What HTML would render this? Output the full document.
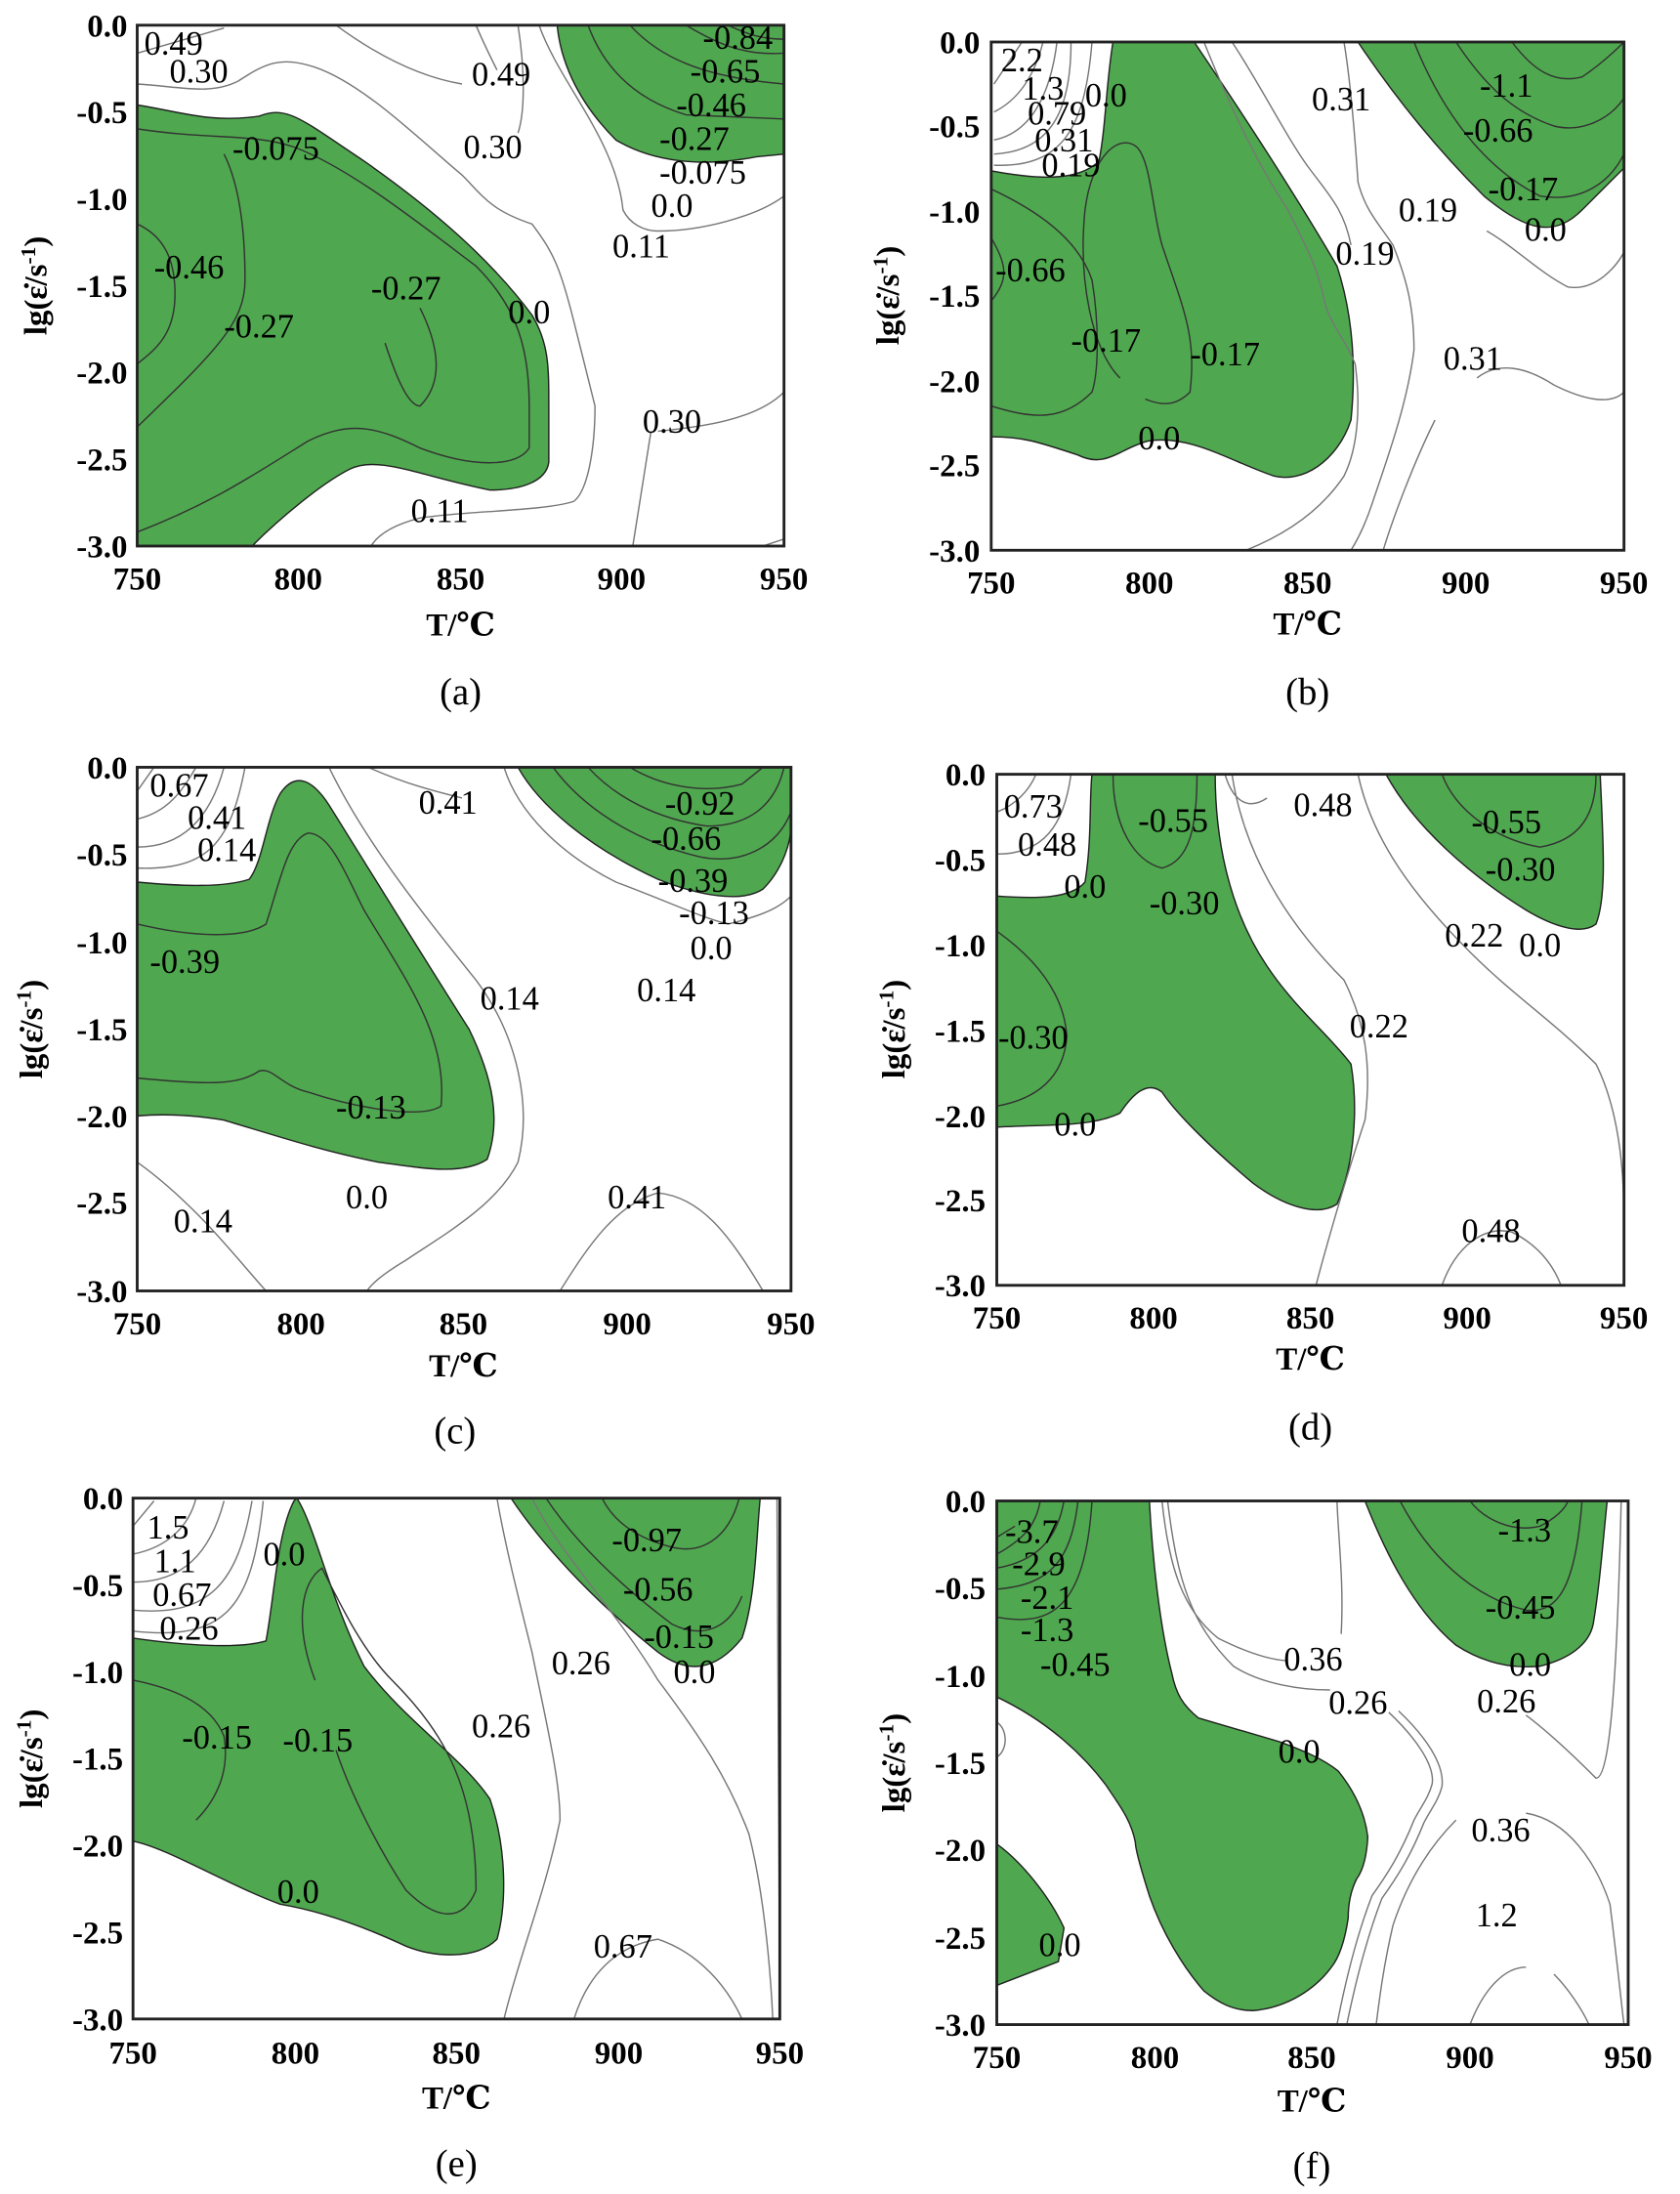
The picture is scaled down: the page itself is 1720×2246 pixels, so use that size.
<!DOCTYPE html>
<html><head><meta charset="utf-8"><style>
html,body{margin:0;padding:0;background:#fff;}
svg{display:block;}
svg text{font-family:"Liberation Serif","DejaVu Serif",serif;}
.tk{font-size:23px;font-weight:bold;}
.lb{font-size:24px;}
.cap{font-size:27px;}
.ax{font-size:23px;font-weight:bold;}
.g{fill:#4fa84f;stroke:#222;stroke-width:1;}
.c{fill:none;stroke:#333;stroke-width:1;}
.w{fill:none;stroke:#777;stroke-width:1;}
.fr{fill:none;stroke:#222;stroke-width:2;}
</style></head><body>
<svg width="1720" height="2246" viewBox="0 0 1200 1567" xmlns="http://www.w3.org/2000/svg" font-family="Liberation Serif, DejaVu Serif, serif">

<!-- ================= (a) ================= -->
<g>
<path class="g" d="M98,75 C130,80 150,88 185,83 C205,75 215,85 260,115 C310,150 350,185 380,225 C392,245 392,262 392,290 L392,330 C390,345 370,350 350,350 C300,340 270,325 250,335 C230,345 200,370 180,390 L98,390 Z"/>
<path class="g" d="M398,18 C400,40 410,70 440,100 C465,115 500,120 540,112 L560,110 L560,18 Z"/>
<path class="c" d="M98,92 C150,100 180,95 210,105 C250,120 300,160 340,190 C370,220 378,250 378,290 L378,320 C370,333 340,335 300,320 C270,305 250,300 220,315 C180,340 150,360 98,380"/>
<path class="c" d="M98,160 C120,170 125,190 125,210 C125,240 110,250 98,260"/>
<path class="c" d="M160,110 C170,130 175,160 175,200 C175,230 155,250 98,305"/>
<path class="c" d="M300,220 C310,240 320,270 300,290 C290,290 280,260 275,245"/>
<path class="c" d="M420,18 C430,45 450,70 490,82 L560,85"/>
<path class="c" d="M450,18 C470,40 500,55 560,60"/>
<path class="c" d="M490,18 C510,30 530,40 560,38"/>
<path class="c" d="M520,18 C535,25 545,28 560,28"/>
<path class="w" d="M98,38 L160,20"/>
<path class="w" d="M98,60 C130,62 150,68 170,58 C190,45 200,40 225,48 C260,60 300,100 330,125 C345,140 350,150 380,160 C395,180 400,190 410,230 L425,290 C425,320 420,350 410,358 C390,365 330,365 300,370 C280,375 270,382 265,390"/>
<path class="w" d="M240,18 C270,40 300,55 330,60"/>
<path class="w" d="M340,18 C345,30 350,40 355,50 M370,18 C375,50 375,80 370,95"/>
<path class="w" d="M385,18 C400,60 440,100 445,150 C450,160 460,165 470,165 C500,165 540,155 560,140"/>
<path class="w" d="M470,308 C500,305 540,300 560,280 M465,308 C460,340 455,370 452,390"/>
<path class="w" d="M545,390 L560,385"/>
<rect class="fr" x="98" y="18" width="462" height="372"/>
<g class="lb" text-anchor="middle">
<text x="124" y="39">0.49</text><text x="142" y="59">0.30</text><text x="358" y="61">0.49</text><text x="352" y="113">0.30</text>
<text x="197" y="114">-0.075</text><text x="135" y="199">-0.46</text><text x="185" y="241">-0.27</text><text x="290" y="214">-0.27</text>
<text x="378" y="231">0.0</text><text x="314" y="373">0.11</text><text x="458" y="184">0.11</text><text x="480" y="309">0.30</text>
<text x="527" y="35">-0.84</text><text x="518" y="59">-0.65</text><text x="508" y="83">-0.46</text><text x="496" y="107">-0.27</text><text x="502" y="131">-0.075</text><text x="480" y="155">0.0</text>
</g>
<g class="tk" text-anchor="end">
<text x="91" y="26">0.0</text><text x="91" y="88">-0.5</text><text x="91" y="150">-1.0</text><text x="91" y="212">-1.5</text><text x="91" y="274">-2.0</text><text x="91" y="336">-2.5</text><text x="91" y="398">-3.0</text>
</g>
<g class="tk" text-anchor="middle">
<text x="98" y="421">750</text><text x="213" y="421">800</text><text x="329" y="421">850</text><text x="444" y="421">900</text><text x="560" y="421">950</text>
</g>
<text class="ax" x="329" y="454" text-anchor="middle">T/℃</text>
<text class="ax" transform="translate(33,204) rotate(-90)" text-anchor="middle">lg(ε̇/s<tspan dy="-8" font-size="15">-1</tspan><tspan dy="8">)</tspan></text>
<text class="cap" x="329" y="503" text-anchor="middle">(a)</text>
</g>

<!-- ================= (b) ================= -->
<g>
<path class="g" d="M708,122 C740,128 770,130 785,115 C790,90 790,60 795,30 L853,30 C880,70 920,130 955,190 C968,230 968,270 965,300 C955,330 930,345 910,340 C880,330 850,310 820,315 C800,320 790,335 770,325 C740,315 730,312 708,312 Z"/>
<path class="g" d="M970,30 C990,60 1020,100 1060,140 C1090,165 1110,170 1130,150 C1145,135 1155,125 1160,120 L1160,30 Z"/>
<path class="c" d="M708,135 C740,150 770,170 780,200 C785,230 785,265 780,280 C760,300 740,300 708,290"/>
<path class="c" d="M708,170 C720,190 720,200 708,215"/>
<path class="c" d="M800,270 C780,250 770,200 775,150 C780,110 800,95 812,105 C822,115 823,150 830,175 C845,220 855,240 850,280 C840,290 830,290 818,285"/>
<path class="c" d="M1010,30 C1030,80 1060,120 1100,140 C1130,145 1150,130 1160,110"/>
<path class="c" d="M1040,30 C1060,60 1080,80 1110,90 C1130,95 1150,85 1160,70"/>
<path class="c" d="M1080,30 C1095,50 1110,60 1130,55 C1145,45 1155,35 1160,30"/>
<path class="w" d="M710,60 L730,30 M710,80 C730,70 740,50 745,30 M710,100 C735,95 750,70 755,30 M710,110 C750,108 765,80 765,30 M710,118 C760,120 775,90 780,30"/>
<path class="w" d="M860,30 C880,80 900,120 920,150 C935,180 940,190 945,210 C948,230 960,240 968,260 C972,290 970,320 960,340 C940,370 910,385 890,393"/>
<path class="w" d="M880,30 C900,60 920,100 935,120 C950,140 960,150 965,175"/>
<path class="w" d="M960,30 C965,60 968,100 970,130 C975,150 985,160 995,175 C1005,200 1010,220 1010,250 C1005,290 990,330 980,360 C975,375 970,385 965,393"/>
<path class="w" d="M1062,165 C1080,175 1100,195 1120,205 C1140,208 1155,190 1160,180"/>
<path class="w" d="M1025,300 C1010,330 995,370 988,393 M1055,270 C1070,258 1090,262 1110,275 C1130,285 1150,290 1160,280"/>
<rect class="fr" x="708" y="30" width="452" height="363"/>
<g class="lb" text-anchor="middle">
<text x="730" y="51">2.2</text><text x="745" y="71">1.3</text><text x="755" y="89">0.79</text><text x="760" y="108">0.31</text><text x="765" y="126">0.19</text><text x="790" y="76">0.0</text>
<text x="958" y="79">0.31</text><text x="1076" y="69">-1.1</text><text x="1070" y="101">-0.66</text><text x="1088" y="143">-0.17</text><text x="1104" y="172">0.0</text>
<text x="1020" y="158">0.19</text><text x="975" y="189">0.19</text><text x="1052" y="264">0.31</text>
<text x="736" y="201">-0.66</text><text x="790" y="251">-0.17</text><text x="875" y="261">-0.17</text><text x="828" y="321">0.0</text>
</g>
<g class="tk" text-anchor="end">
<text x="700" y="38">0.0</text><text x="700" y="98">-0.5</text><text x="700" y="159">-1.0</text><text x="700" y="219">-1.5</text><text x="700" y="280">-2.0</text><text x="700" y="340">-2.5</text><text x="700" y="401">-3.0</text>
</g>
<g class="tk" text-anchor="middle">
<text x="708" y="424">750</text><text x="821" y="424">800</text><text x="934" y="424">850</text><text x="1047" y="424">900</text><text x="1160" y="424">950</text>
</g>
<text class="ax" x="934" y="453" text-anchor="middle">T/℃</text>
<text class="ax" transform="translate(642,211) rotate(-90)" text-anchor="middle">lg(ε̇/s<tspan dy="-8" font-size="15">-1</tspan><tspan dy="8">)</tspan></text>
<text class="cap" x="934" y="503" text-anchor="middle">(b)</text>
</g>

<!-- ================= (c) ================= -->
<g>
<path class="g" d="M98,630 C130,633 160,634 178,628 C188,615 190,585 200,567 C210,552 222,555 235,575 C260,615 300,680 335,735 C352,770 358,800 348,828 C330,840 300,834 270,830 C230,822 200,812 160,800 C130,795 110,796 98,797 Z"/>
<path class="g" d="M370,548 C385,575 420,605 470,628 C500,640 530,645 545,635 C560,620 565,600 565,590 L565,548 Z"/>
<path class="c" d="M98,660 C140,670 175,670 190,660 C200,630 205,600 220,595 C235,595 245,620 260,650 C290,700 320,740 315,790 C300,800 250,790 220,780 C200,775 195,762 185,765 C170,775 150,775 98,770"/>
<path class="c" d="M395,548 C415,575 450,600 500,612 C530,618 555,605 565,580 M420,548 C440,570 470,585 505,590 C540,590 555,570 560,548 M450,548 C470,560 500,568 530,560 L545,548"/>
<path class="w" d="M98,565 L110,548 M98,585 C120,580 130,565 140,548 M98,605 C130,605 150,585 160,548 M98,620 C150,622 165,600 175,548"/>
<path class="w" d="M98,830 C140,860 170,900 190,922 M235,548 C260,600 300,650 340,700 C370,740 380,790 370,830 C355,860 320,880 290,900 C270,912 265,918 262,922"/>
<path class="w" d="M360,548 C370,580 400,610 440,630 C480,645 500,655 520,660 C540,655 555,650 565,640"/>
<path class="w" d="M400,922 C420,890 440,860 470,852 C500,855 520,880 545,922"/>
<path class="w" d="M263,548 C290,560 310,565 330,570"/>
<rect class="fr" x="98" y="548" width="467" height="374"/>
<g class="lb" text-anchor="middle">
<text x="128" y="569">0.67</text><text x="155" y="592">0.41</text><text x="162" y="615">0.14</text><text x="320" y="581">0.41</text>
<text x="132" y="695">-0.39</text><text x="265" y="799">-0.13</text><text x="262" y="863">0.0</text><text x="145" y="880">0.14</text>
<text x="364" y="721">0.14</text><text x="476" y="715">0.14</text><text x="455" y="863">0.41</text>
<text x="500" y="582">-0.92</text><text x="490" y="607">-0.66</text><text x="495" y="637">-0.39</text><text x="510" y="660">-0.13</text><text x="508" y="685">0.0</text>
</g>
<g class="tk" text-anchor="end">
<text x="91" y="556">0.0</text><text x="91" y="618">-0.5</text><text x="91" y="681">-1.0</text><text x="91" y="743">-1.5</text><text x="91" y="805">-2.0</text><text x="91" y="867">-2.5</text><text x="91" y="930">-3.0</text>
</g>
<g class="tk" text-anchor="middle">
<text x="98" y="953">750</text><text x="215" y="953">800</text><text x="331" y="953">850</text><text x="448" y="953">900</text><text x="565" y="953">950</text>
</g>
<text class="ax" x="331" y="983" text-anchor="middle">T/℃</text>
<text class="ax" transform="translate(30,735) rotate(-90)" text-anchor="middle">lg(ε̇/s<tspan dy="-8" font-size="15">-1</tspan><tspan dy="8">)</tspan></text>
<text class="cap" x="325" y="1031" text-anchor="middle">(c)</text>
</g>

<!-- ================= (d) ================= -->
<g>
<path class="g" d="M712,640 C740,642 765,642 775,630 C780,600 778,570 780,553 L868,553 C868,600 878,650 905,690 C925,720 950,740 965,760 C970,790 968,830 955,860 C940,870 915,860 895,845 C865,820 840,795 830,780 C820,772 810,780 800,795 C780,805 750,803 712,805 Z"/>
<path class="g" d="M990,553 C1010,590 1050,625 1090,650 C1110,662 1130,668 1140,660 C1148,640 1145,600 1143,553 Z"/>
<path class="c" d="M712,665 C740,685 760,710 762,740 C760,770 740,785 712,790 M795,553 C795,590 810,615 830,620 C850,615 855,590 855,553"/>
<path class="c" d="M1030,553 C1040,580 1070,600 1100,605 C1130,600 1140,580 1140,553"/>
<path class="w" d="M712,580 C725,575 735,565 740,553 M712,610 C745,610 760,590 765,553"/>
<path class="w" d="M875,553 C880,570 890,580 905,570 M880,553 C890,620 930,670 960,700 C975,730 980,760 975,800 C965,830 950,880 940,918"/>
<path class="w" d="M970,553 C980,600 1010,640 1050,680 C1080,710 1110,730 1140,760 C1155,790 1160,830 1160,870"/>
<path class="w" d="M1030,918 C1040,890 1060,875 1080,880 C1100,890 1110,905 1115,918"/>
<rect class="fr" x="712" y="553" width="448" height="365"/>
<g class="lb" text-anchor="middle">
<text x="738" y="584">0.73</text><text x="748" y="611">0.48</text><text x="775" y="641">0.0</text><text x="838" y="594">-0.55</text><text x="846" y="653">-0.30</text>
<text x="945" y="583">0.48</text><text x="1076" y="595">-0.55</text><text x="1086" y="629">-0.30</text><text x="1100" y="683">0.0</text><text x="1053" y="676">0.22</text>
<text x="985" y="741">0.22</text><text x="738" y="749">-0.30</text><text x="768" y="811">0.0</text><text x="1065" y="887">0.48</text>
</g>
<g class="tk" text-anchor="end">
<text x="704" y="561">0.0</text><text x="704" y="622">-0.5</text><text x="704" y="683">-1.0</text><text x="704" y="744">-1.5</text><text x="704" y="805">-2.0</text><text x="704" y="865">-2.5</text><text x="704" y="926">-3.0</text>
</g>
<g class="tk" text-anchor="middle">
<text x="712" y="949">750</text><text x="824" y="949">800</text><text x="936" y="949">850</text><text x="1048" y="949">900</text><text x="1160" y="949">950</text>
</g>
<text class="ax" x="936" y="978" text-anchor="middle">T/℃</text>
<text class="ax" transform="translate(646,735) rotate(-90)" text-anchor="middle">lg(ε̇/s<tspan dy="-8" font-size="15">-1</tspan><tspan dy="8">)</tspan></text>
<text class="cap" x="936" y="1028" text-anchor="middle">(d)</text>
</g>

<!-- ================= (e) ================= -->
<g>
<path class="g" d="M95,1170 C130,1175 170,1178 190,1172 C196,1140 198,1095 210,1072 L212,1070 C225,1090 235,1140 260,1190 C290,1230 330,1255 350,1285 C362,1320 362,1360 355,1385 C340,1400 310,1398 290,1390 C260,1376 230,1365 200,1360 C160,1345 120,1320 95,1315 Z"/>
<path class="g" d="M365,1070 C385,1100 420,1140 470,1180 C490,1195 510,1195 530,1170 C540,1140 540,1100 543,1070 Z"/>
<path class="c" d="M95,1200 C120,1205 150,1215 160,1240 C165,1270 150,1290 140,1300"/>
<path class="c" d="M225,1200 C210,1160 215,1130 230,1120 C245,1150 260,1180 280,1200 C320,1240 340,1280 340,1350 C330,1375 310,1370 290,1350 C270,1320 250,1280 240,1250"/>
<path class="c" d="M390,1070 C410,1100 440,1130 480,1160 C500,1170 520,1165 530,1140 M430,1070 C440,1090 460,1100 480,1105 C500,1110 520,1100 528,1070"/>
<path class="w" d="M95,1090 L110,1072 M95,1110 C120,1105 135,1090 140,1070 M95,1130 C130,1130 150,1110 160,1072 M95,1150 C150,1155 170,1130 180,1072 M95,1165 C160,1172 180,1150 188,1072"/>
<path class="w" d="M355,1070 C360,1100 370,1140 380,1180 C390,1230 400,1270 400,1300 C390,1350 370,1400 360,1442"/>
<path class="w" d="M380,1070 C400,1110 440,1150 470,1200 C500,1240 520,1270 535,1310 C545,1350 550,1400 552,1442"/>
<path class="w" d="M410,1442 C420,1410 440,1390 470,1385 C500,1395 520,1420 530,1442"/>
<path class="w" d="M555,1070 L557,1442"/>
<rect class="fr" x="95" y="1070" width="462" height="372"/>
<g class="lb" text-anchor="middle">
<text x="120" y="1099">1.5</text><text x="125" y="1123">1.1</text><text x="130" y="1147">0.67</text><text x="135" y="1171">0.26</text><text x="203" y="1118">0.0</text>
<text x="155" y="1249">-0.15</text><text x="227" y="1251">-0.15</text><text x="213" y="1359">0.0</text><text x="358" y="1241">0.26</text><text x="415" y="1196">0.26</text>
<text x="462" y="1108">-0.97</text><text x="470" y="1143">-0.56</text><text x="485" y="1177">-0.15</text><text x="496" y="1202">0.0</text><text x="445" y="1398">0.67</text>
</g>
<g class="tk" text-anchor="end">
<text x="88" y="1078">0.0</text><text x="88" y="1140">-0.5</text><text x="88" y="1202">-1.0</text><text x="88" y="1264">-1.5</text><text x="88" y="1326">-2.0</text><text x="88" y="1388">-2.5</text><text x="88" y="1450">-3.0</text>
</g>
<g class="tk" text-anchor="middle">
<text x="95" y="1474">750</text><text x="211" y="1474">800</text><text x="326" y="1474">850</text><text x="442" y="1474">900</text><text x="557" y="1474">950</text>
</g>
<text class="ax" x="326" y="1506" text-anchor="middle">T/℃</text>
<text class="ax" transform="translate(30,1256) rotate(-90)" text-anchor="middle">lg(ε̇/s<tspan dy="-8" font-size="15">-1</tspan><tspan dy="8">)</tspan></text>
<text class="cap" x="326" y="1554" text-anchor="middle">(e)</text>
</g>

<!-- ================= (f) ================= -->
<g>
<path class="g" d="M712,1072 L821,1072 C823,1110 828,1160 837,1195 C840,1210 845,1218 856,1227 L914,1244 C930,1250 945,1256 956,1265 C968,1280 975,1295 977,1312 C976,1330 972,1338 969,1342 C965,1350 963,1360 963,1370 C960,1390 955,1400 951,1405 C940,1420 920,1434 895,1436 C880,1436 870,1430 860,1422 C845,1405 830,1380 821,1354 C815,1335 811,1320 811,1316 C808,1300 800,1290 790,1275 C775,1255 750,1230 712,1212 Z"/>
<path class="g" d="M712,1317 C730,1330 750,1355 760,1377 L756,1401 L712,1418 Z"/>
<path class="g" d="M975,1072 C990,1110 1010,1150 1040,1175 C1060,1188 1080,1192 1100,1190 C1120,1185 1135,1175 1138,1160 C1143,1130 1145,1100 1148,1072 Z"/>
<path class="c" d="M712,1098 L725,1090 M712,1110 C730,1100 740,1090 743,1072 M712,1120 C740,1115 755,1100 760,1072 M712,1135 C750,1132 765,1115 770,1072 M712,1155 C750,1162 775,1150 780,1072"/>
<path class="c" d="M1000,1072 C1020,1110 1050,1140 1090,1150 C1110,1152 1125,1140 1130,1072 M1050,1072 C1060,1085 1080,1095 1100,1090 C1110,1085 1118,1078 1120,1072"/>
<path class="w" d="M830,1072 C835,1120 845,1150 870,1170 C890,1180 905,1185 918,1186 M958,1167 C960,1130 956,1100 955,1072"/>
<path class="w" d="M834,1072 C841,1130 851,1160 881,1190 C901,1203 930,1207 950,1207"/>
<path class="w" d="M992,1223 C1010,1240 1025,1260 1023,1274 C1020,1285 1015,1290 1010,1300 C1000,1325 990,1340 980,1354 C970,1380 962,1410 955,1446"/>
<path class="w" d="M999,1222 C1018,1240 1032,1260 1030,1276 C1027,1287 1022,1292 1017,1302 C1007,1327 997,1342 987,1356 C977,1382 969,1412 962,1446"/>
<path class="w" d="M1090,1225 C1110,1240 1130,1260 1140,1270 C1150,1270 1155,1200 1158,1072"/>
<path class="w" d="M1040,1300 C1020,1320 1005,1345 995,1375 C988,1405 985,1430 983,1446 M1090,1295 C1120,1300 1140,1330 1150,1360 C1155,1400 1158,1430 1160,1446"/>
<path class="w" d="M1050,1446 C1060,1420 1075,1405 1090,1405 M1110,1410 C1120,1420 1130,1435 1135,1446"/>
<path class="w" d="M712,1230 C720,1235 720,1250 712,1255"/>
<rect class="fr" x="712" y="1072" width="451" height="374"/>
<g class="lb" text-anchor="middle">
<text x="737" y="1102">-3.7</text><text x="742" y="1125">-2.9</text><text x="748" y="1149">-2.1</text><text x="748" y="1172">-1.3</text><text x="768" y="1197">-0.45</text>
<text x="1089" y="1101">-1.3</text><text x="1086" y="1156">-0.45</text><text x="1093" y="1197">0.0</text>
<text x="938" y="1193">0.36</text><text x="970" y="1224">0.26</text><text x="1076" y="1223">0.26</text><text x="928" y="1259">0.0</text>
<text x="1072" y="1315">0.36</text><text x="1069" y="1376">1.2</text><text x="757" y="1397">0.0</text>
</g>
<g class="tk" text-anchor="end">
<text x="704" y="1080">0.0</text><text x="704" y="1142">-0.5</text><text x="704" y="1205">-1.0</text><text x="704" y="1267">-1.5</text><text x="704" y="1329">-2.0</text><text x="704" y="1392">-2.5</text><text x="704" y="1454">-3.0</text>
</g>
<g class="tk" text-anchor="middle">
<text x="712" y="1477">750</text><text x="825" y="1477">800</text><text x="937" y="1477">850</text><text x="1050" y="1477">900</text><text x="1163" y="1477">950</text>
</g>
<text class="ax" x="937" y="1508" text-anchor="middle">T/℃</text>
<text class="ax" transform="translate(646,1259) rotate(-90)" text-anchor="middle">lg(ε̇/s<tspan dy="-8" font-size="15">-1</tspan><tspan dy="8">)</tspan></text>
<text class="cap" x="937" y="1556" text-anchor="middle">(f)</text>
</g>
</svg>
</body></html>
